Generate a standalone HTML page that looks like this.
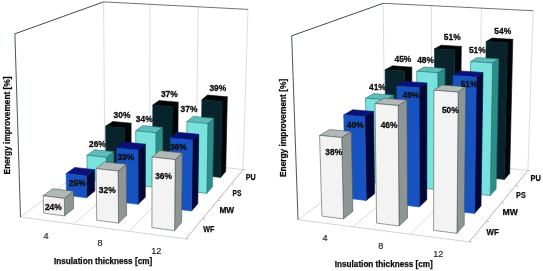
<!DOCTYPE html>
<html><head><meta charset="utf-8"><title>chart</title>
<style>html,body{margin:0;padding:0;background:#fff}svg{display:block}text{font-family:"Liberation Sans",sans-serif}</style>
</head><body>
<svg width="543" height="271" viewBox="0 0 543 271">
<rect width="543" height="271" fill="#fff"/>
<line x1="149.7" y1="158.5" x2="150.0" y2="4.4" stroke="#c4caca" stroke-width="0.6"/>
<line x1="196.1" y1="163.5" x2="198.2" y2="7.0" stroke="#c4caca" stroke-width="0.6"/>
<line x1="104.7" y1="153.6" x2="103.6" y2="1.9" stroke="#c4caca" stroke-width="0.6"/>
<line x1="243.0" y1="169.6" x2="248.0" y2="9.4" stroke="#c4caca" stroke-width="0.6"/>
<line x1="73.7" y1="224.0" x2="149.7" y2="158.5" stroke="#c4caca" stroke-width="0.7"/>
<line x1="129.0" y1="231.5" x2="196.1" y2="163.5" stroke="#c4caca" stroke-width="0.7"/>
<line x1="20.5" y1="217.1" x2="104.7" y2="153.6" stroke="#c4caca" stroke-width="0.7"/>
<line x1="104.7" y1="153.6" x2="243.0" y2="169.6" stroke="#c4caca" stroke-width="0.7"/>
<line x1="20.5" y1="217.1" x2="186.0" y2="238.8" stroke="#c4caca" stroke-width="0.8"/>
<line x1="186.0" y1="238.8" x2="243.0" y2="169.6" stroke="#9aa3a3" stroke-width="0.8"/>
<line x1="186.0" y1="238.8" x2="188.2" y2="239.1" stroke="#9aa3a3" stroke-width="0.7"/>
<line x1="203.3" y1="218.8" x2="205.6" y2="219.1" stroke="#9aa3a3" stroke-width="0.7"/>
<line x1="218.3" y1="200.4" x2="220.4" y2="200.7" stroke="#9aa3a3" stroke-width="0.7"/>
<line x1="231.8" y1="183.8" x2="233.8" y2="184.0" stroke="#9aa3a3" stroke-width="0.7"/>
<line x1="243.0" y1="169.6" x2="245.2" y2="169.9" stroke="#9aa3a3" stroke-width="0.7"/>
<line x1="14.9" y1="33.8" x2="103.6" y2="1.9" stroke="#3f4b4b" stroke-width="1.0"/>
<line x1="103.6" y1="1.9" x2="248.0" y2="9.4" stroke="#5a6666" stroke-width="0.9"/>
<line x1="20.5" y1="217.1" x2="14.9" y2="33.8" stroke="#4a5656" stroke-width="1.0"/>
<polygon points="124.4,166.6 131.1,161.0 131.1,123.2 124.2,128.1" fill="#020608" stroke="#020608" stroke-width="0.6" stroke-linejoin="round"/>
<polygon points="105.6,126.3 124.2,128.1 131.1,123.2 112.7,121.5" fill="#000304" stroke="#000304" stroke-width="0.6" stroke-linejoin="round"/>
<polygon points="105.9,164.5 124.4,166.6 124.2,128.1 105.6,126.3" fill="#09232c" stroke="#09232c" stroke-width="0.6" stroke-linejoin="round"/>
<polygon points="171.7,171.9 177.6,166.2 178.2,102.2 172.2,106.8" fill="#020608" stroke="#020608" stroke-width="0.6" stroke-linejoin="round"/>
<polygon points="152.8,105.1 172.2,106.8 178.2,102.2 159.1,100.5" fill="#000304" stroke="#000304" stroke-width="0.6" stroke-linejoin="round"/>
<polygon points="152.6,169.8 171.7,171.9 172.2,106.8 152.8,105.1" fill="#09232c" stroke="#09232c" stroke-width="0.6" stroke-linejoin="round"/>
<polygon points="220.6,177.4 225.7,171.5 227.3,96.8 222.1,101.4" fill="#020608" stroke="#020608" stroke-width="0.6" stroke-linejoin="round"/>
<polygon points="201.9,99.7 222.1,101.4 227.3,96.8 207.5,95.1" fill="#000304" stroke="#000304" stroke-width="0.6" stroke-linejoin="round"/>
<polygon points="200.8,175.2 220.6,177.4 222.1,101.4 201.9,99.7" fill="#09232c" stroke="#09232c" stroke-width="0.6" stroke-linejoin="round"/>
<polygon points="106.4,181.4 113.8,175.3 113.7,151.7 106.2,157.4" fill="#2c8c88" stroke="#267878" stroke-width="0.6" stroke-linejoin="round"/>
<polygon points="86.9,155.3 106.2,157.4 113.7,151.7 94.6,149.7" fill="#5ebcba" stroke="#267878" stroke-width="0.6" stroke-linejoin="round"/>
<polygon points="87.2,179.1 106.4,181.4 106.2,157.4 86.9,155.3" fill="#7ae2dc" stroke="#267878" stroke-width="0.6" stroke-linejoin="round"/>
<polygon points="155.7,187.3 162.3,181.0 162.6,127.5 155.9,132.8" fill="#2c8c88" stroke="#267878" stroke-width="0.6" stroke-linejoin="round"/>
<polygon points="135.7,130.8 155.9,132.8 162.6,127.5 142.7,125.5" fill="#5ebcba" stroke="#267878" stroke-width="0.6" stroke-linejoin="round"/>
<polygon points="135.8,184.9 155.7,187.3 155.9,132.8 135.7,130.8" fill="#7ae2dc" stroke="#267878" stroke-width="0.6" stroke-linejoin="round"/>
<polygon points="206.8,193.4 212.5,186.8 213.7,118.3 207.9,123.6" fill="#2c8c88" stroke="#267878" stroke-width="0.6" stroke-linejoin="round"/>
<polygon points="186.9,121.6 207.9,123.6 213.7,118.3 193.1,116.4" fill="#5ebcba" stroke="#267878" stroke-width="0.6" stroke-linejoin="round"/>
<polygon points="186.1,190.9 206.8,193.4 207.9,123.6 186.9,121.6" fill="#7ae2dc" stroke="#267878" stroke-width="0.6" stroke-linejoin="round"/>
<polygon points="86.6,197.8 94.8,191.0 94.5,169.7 86.3,176.0" fill="#010838" stroke="#010838" stroke-width="0.6" stroke-linejoin="round"/>
<polygon points="66.1,173.6 86.3,176.0 94.5,169.7 74.7,167.4" fill="#0a1278" stroke="#0a1278" stroke-width="0.6" stroke-linejoin="round"/>
<polygon points="66.5,195.3 86.6,197.8 86.3,176.0 66.1,173.6" fill="#1652c0" stroke="#1652c0" stroke-width="0.6" stroke-linejoin="round"/>
<polygon points="138.1,204.3 145.3,197.3 145.4,144.2 138.0,150.2" fill="#010838" stroke="#010838" stroke-width="0.6" stroke-linejoin="round"/>
<polygon points="116.9,147.9 138.0,150.2 145.4,144.2 124.7,142.1" fill="#0a1278" stroke="#0a1278" stroke-width="0.6" stroke-linejoin="round"/>
<polygon points="117.2,201.7 138.1,204.3 138.0,150.2 116.9,147.9" fill="#1652c0" stroke="#1652c0" stroke-width="0.6" stroke-linejoin="round"/>
<polygon points="191.5,211.0 197.8,203.7 198.8,134.3 192.4,140.2" fill="#010838" stroke="#010838" stroke-width="0.6" stroke-linejoin="round"/>
<polygon points="170.4,138.0 192.4,140.2 198.8,134.3 177.2,132.2" fill="#0a1278" stroke="#0a1278" stroke-width="0.6" stroke-linejoin="round"/>
<polygon points="169.9,208.3 191.5,211.0 192.4,140.2 170.4,138.0" fill="#1652c0" stroke="#1652c0" stroke-width="0.6" stroke-linejoin="round"/>
<polygon points="64.6,215.9 73.7,208.4 73.4,191.2 64.3,198.4" fill="#8d9595" stroke="#505757" stroke-width="0.6" stroke-linejoin="round"/>
<polygon points="43.2,195.7 64.3,198.4 73.4,191.2 52.7,188.7" fill="#b1b8b8" stroke="#505757" stroke-width="0.6" stroke-linejoin="round"/>
<polygon points="43.6,213.1 64.6,215.9 64.3,198.4 43.2,195.7" fill="#f3f3f3" stroke="#505757" stroke-width="0.6" stroke-linejoin="round"/>
<polygon points="118.5,223.1 126.6,215.3 126.4,164.3 118.2,171.1" fill="#8d9595" stroke="#505757" stroke-width="0.6" stroke-linejoin="round"/>
<polygon points="96.1,168.6 118.2,171.1 126.4,164.3 104.7,161.9" fill="#b1b8b8" stroke="#505757" stroke-width="0.6" stroke-linejoin="round"/>
<polygon points="96.7,220.2 118.5,223.1 118.2,171.1 96.1,168.6" fill="#f3f3f3" stroke="#505757" stroke-width="0.6" stroke-linejoin="round"/>
<polygon points="174.6,230.6 181.6,222.5 182.3,153.0 175.2,159.6" fill="#8d9595" stroke="#505757" stroke-width="0.6" stroke-linejoin="round"/>
<polygon points="152.1,157.1 175.2,159.6 182.3,153.0 159.6,150.6" fill="#b1b8b8" stroke="#505757" stroke-width="0.6" stroke-linejoin="round"/>
<polygon points="151.9,227.6 174.6,230.6 175.2,159.6 152.1,157.1" fill="#f3f3f3" stroke="#505757" stroke-width="0.6" stroke-linejoin="round"/>
<line x1="431.2" y1="160.6" x2="431.5" y2="5.7" stroke="#c4caca" stroke-width="0.6"/>
<line x1="479.1" y1="165.6" x2="481.4" y2="8.1" stroke="#c4caca" stroke-width="0.6"/>
<line x1="384.9" y1="155.9" x2="383.2" y2="3.3" stroke="#c4caca" stroke-width="0.6"/>
<line x1="527.9" y1="170.5" x2="533.1" y2="10.7" stroke="#c4caca" stroke-width="0.6"/>
<line x1="352.9" y1="226.9" x2="431.2" y2="160.6" stroke="#c4caca" stroke-width="0.7"/>
<line x1="410.0" y1="234.4" x2="479.1" y2="165.6" stroke="#c4caca" stroke-width="0.7"/>
<line x1="298.0" y1="219.7" x2="384.9" y2="155.9" stroke="#c4caca" stroke-width="0.7"/>
<line x1="384.9" y1="155.9" x2="527.9" y2="170.5" stroke="#c4caca" stroke-width="0.7"/>
<line x1="298.0" y1="219.7" x2="469.3" y2="241.9" stroke="#c4caca" stroke-width="0.8"/>
<line x1="469.3" y1="241.9" x2="527.9" y2="170.5" stroke="#9aa3a3" stroke-width="0.8"/>
<line x1="469.3" y1="241.9" x2="471.5" y2="242.2" stroke="#9aa3a3" stroke-width="0.7"/>
<line x1="486.7" y1="221.3" x2="489.0" y2="221.6" stroke="#9aa3a3" stroke-width="0.7"/>
<line x1="502.1" y1="202.7" x2="504.3" y2="203.0" stroke="#9aa3a3" stroke-width="0.7"/>
<line x1="516.0" y1="185.9" x2="518.1" y2="186.1" stroke="#9aa3a3" stroke-width="0.7"/>
<line x1="527.9" y1="170.5" x2="530.1" y2="170.8" stroke="#9aa3a3" stroke-width="0.7"/>
<line x1="291.7" y1="35.8" x2="383.2" y2="3.3" stroke="#3f4b4b" stroke-width="1.0"/>
<line x1="383.2" y1="3.3" x2="533.1" y2="10.7" stroke="#5a6666" stroke-width="0.9"/>
<line x1="298.0" y1="219.7" x2="291.7" y2="35.8" stroke="#4a5656" stroke-width="1.0"/>
<polygon points="405.2,168.9 412.1,163.3 411.8,67.2 404.7,71.1" fill="#020608" stroke="#020608" stroke-width="0.6" stroke-linejoin="round"/>
<polygon points="385.1,69.7 404.7,71.1 411.8,67.2 392.6,65.8" fill="#000304" stroke="#000304" stroke-width="0.6" stroke-linejoin="round"/>
<polygon points="386.2,166.9 405.2,168.9 404.7,71.1 385.1,69.7" fill="#09232c" stroke="#09232c" stroke-width="0.6" stroke-linejoin="round"/>
<polygon points="454.0,174.1 460.1,168.3 461.3,46.4 454.9,50.1" fill="#020608" stroke="#020608" stroke-width="0.6" stroke-linejoin="round"/>
<polygon points="434.5,48.8 454.9,50.1 461.3,46.4 441.2,45.2" fill="#000304" stroke="#000304" stroke-width="0.6" stroke-linejoin="round"/>
<polygon points="434.3,172.0 454.0,174.1 454.9,50.1 434.5,48.8" fill="#09232c" stroke="#09232c" stroke-width="0.6" stroke-linejoin="round"/>
<polygon points="504.4,179.5 509.7,173.5 512.8,39.3 507.4,42.8" fill="#020608" stroke="#020608" stroke-width="0.6" stroke-linejoin="round"/>
<polygon points="486.2,41.6 507.4,42.8 512.8,39.3 492.0,38.1" fill="#000304" stroke="#000304" stroke-width="0.6" stroke-linejoin="round"/>
<polygon points="484.0,177.3 504.4,179.5 507.4,42.8 486.2,41.6" fill="#09232c" stroke="#09232c" stroke-width="0.6" stroke-linejoin="round"/>
<polygon points="386.6,183.9 394.3,177.8 393.6,95.2 385.8,99.9" fill="#2c8c88" stroke="#267878" stroke-width="0.6" stroke-linejoin="round"/>
<polygon points="365.5,98.2 385.8,99.9 393.6,95.2 373.6,93.6" fill="#5ebcba" stroke="#267878" stroke-width="0.6" stroke-linejoin="round"/>
<polygon points="366.8,181.7 386.6,183.9 385.8,99.9 365.5,98.2" fill="#7ae2dc" stroke="#267878" stroke-width="0.6" stroke-linejoin="round"/>
<polygon points="437.5,189.7 444.3,183.3 444.9,68.5 437.9,72.8" fill="#2c8c88" stroke="#267878" stroke-width="0.6" stroke-linejoin="round"/>
<polygon points="416.7,71.2 437.9,72.8 444.9,68.5 424.0,67.0" fill="#5ebcba" stroke="#267878" stroke-width="0.6" stroke-linejoin="round"/>
<polygon points="416.9,187.4 437.5,189.7 437.9,72.8 416.7,71.2" fill="#7ae2dc" stroke="#267878" stroke-width="0.6" stroke-linejoin="round"/>
<polygon points="490.2,195.6 496.1,189.0 498.6,58.9 492.6,63.0" fill="#2c8c88" stroke="#267878" stroke-width="0.6" stroke-linejoin="round"/>
<polygon points="470.5,61.5 492.6,63.0 498.6,58.9 476.9,57.5" fill="#5ebcba" stroke="#267878" stroke-width="0.6" stroke-linejoin="round"/>
<polygon points="468.9,193.2 490.2,195.6 492.6,63.0 470.5,61.5" fill="#7ae2dc" stroke="#267878" stroke-width="0.6" stroke-linejoin="round"/>
<polygon points="366.2,200.5 374.6,193.7 373.5,111.5 364.8,116.8" fill="#010838" stroke="#010838" stroke-width="0.6" stroke-linejoin="round"/>
<polygon points="343.7,114.9 364.8,116.8 373.5,111.5 352.7,109.7" fill="#0a1278" stroke="#0a1278" stroke-width="0.6" stroke-linejoin="round"/>
<polygon points="345.5,198.0 366.2,200.5 364.8,116.8 343.7,114.9" fill="#1652c0" stroke="#1652c0" stroke-width="0.6" stroke-linejoin="round"/>
<polygon points="419.3,206.9 426.8,199.8 426.9,83.0 419.1,87.8" fill="#010838" stroke="#010838" stroke-width="0.6" stroke-linejoin="round"/>
<polygon points="396.9,86.1 419.1,87.8 426.9,83.0 405.1,81.4" fill="#0a1278" stroke="#0a1278" stroke-width="0.6" stroke-linejoin="round"/>
<polygon points="397.8,204.3 419.3,206.9 419.1,87.8 396.9,86.1" fill="#1652c0" stroke="#1652c0" stroke-width="0.6" stroke-linejoin="round"/>
<polygon points="474.5,213.5 481.0,206.1 483.0,72.5 476.3,77.2" fill="#010838" stroke="#010838" stroke-width="0.6" stroke-linejoin="round"/>
<polygon points="453.2,75.5 476.3,77.2 483.0,72.5 460.3,70.9" fill="#0a1278" stroke="#0a1278" stroke-width="0.6" stroke-linejoin="round"/>
<polygon points="452.2,210.8 474.5,213.5 476.3,77.2 453.2,75.5" fill="#1652c0" stroke="#1652c0" stroke-width="0.6" stroke-linejoin="round"/>
<polygon points="343.5,218.9 352.9,211.3 351.3,131.6 341.7,137.5" fill="#8d9595" stroke="#505757" stroke-width="0.6" stroke-linejoin="round"/>
<polygon points="319.6,135.4 341.7,137.5 351.3,131.6 329.6,129.5" fill="#b1b8b8" stroke="#505757" stroke-width="0.6" stroke-linejoin="round"/>
<polygon points="321.9,216.1 343.5,218.9 341.7,137.5 319.6,135.4" fill="#f3f3f3" stroke="#505757" stroke-width="0.6" stroke-linejoin="round"/>
<polygon points="399.1,226.0 407.5,218.1 406.9,100.1 398.2,105.5" fill="#8d9595" stroke="#505757" stroke-width="0.6" stroke-linejoin="round"/>
<polygon points="375.0,103.5 398.2,105.5 406.9,100.1 384.1,98.2" fill="#b1b8b8" stroke="#505757" stroke-width="0.6" stroke-linejoin="round"/>
<polygon points="376.6,223.1 399.1,226.0 398.2,105.5 375.0,103.5" fill="#f3f3f3" stroke="#505757" stroke-width="0.6" stroke-linejoin="round"/>
<polygon points="457.0,233.3 464.2,225.1 465.7,86.8 458.2,92.1" fill="#8d9595" stroke="#505757" stroke-width="0.6" stroke-linejoin="round"/>
<polygon points="433.9,90.2 458.2,92.1 465.7,86.8 441.9,85.0" fill="#b1b8b8" stroke="#505757" stroke-width="0.6" stroke-linejoin="round"/>
<polygon points="433.6,230.4 457.0,233.3 458.2,92.1 433.9,90.2" fill="#f3f3f3" stroke="#505757" stroke-width="0.6" stroke-linejoin="round"/>
<text x="122" y="118.2" font-size="8.7" font-weight="bold" text-anchor="middle" fill="#0c0c0c" stroke="#0c0c0c" stroke-width="0.3" textLength="16.8" lengthAdjust="spacingAndGlyphs">30%</text>
<text x="169.3" y="96.6" font-size="8.7" font-weight="bold" text-anchor="middle" fill="#0c0c0c" stroke="#0c0c0c" stroke-width="0.3" textLength="16.8" lengthAdjust="spacingAndGlyphs">37%</text>
<text x="217.8" y="90.5" font-size="8.7" font-weight="bold" text-anchor="middle" fill="#0c0c0c" stroke="#0c0c0c" stroke-width="0.3" textLength="16.8" lengthAdjust="spacingAndGlyphs">39%</text>
<text x="189" y="112.1" font-size="8.7" font-weight="bold" text-anchor="middle" fill="#0c0c0c" stroke="#0c0c0c" stroke-width="0.3" textLength="16.8" lengthAdjust="spacingAndGlyphs">37%</text>
<text x="144.2" y="122" font-size="8.7" font-weight="bold" text-anchor="middle" fill="#0c0c0c" stroke="#0c0c0c" stroke-width="0.3" textLength="16.8" lengthAdjust="spacingAndGlyphs">34%</text>
<text x="97.4" y="146.5" font-size="8.7" font-weight="bold" text-anchor="middle" fill="#0c0c0c" stroke="#0c0c0c" stroke-width="0.3" textLength="16.8" lengthAdjust="spacingAndGlyphs">26%</text>
<text x="125.8" y="160.3" font-size="8.7" font-weight="bold" text-anchor="middle" fill="#0c0c0c" stroke="#0c0c0c" stroke-width="0.3" textLength="16.8" lengthAdjust="spacingAndGlyphs">33%</text>
<text x="77.2" y="186.2" font-size="8.7" font-weight="bold" text-anchor="middle" fill="#0c0c0c" stroke="#0c0c0c" stroke-width="0.3" textLength="16.8" lengthAdjust="spacingAndGlyphs">25%</text>
<text x="107.2" y="193.2" font-size="8.7" font-weight="bold" text-anchor="middle" fill="#0c0c0c" stroke="#0c0c0c" stroke-width="0.3" textLength="16.8" lengthAdjust="spacingAndGlyphs">32%</text>
<text x="53.3" y="210" font-size="8.7" font-weight="bold" text-anchor="middle" fill="#0c0c0c" stroke="#0c0c0c" stroke-width="0.3" textLength="16.8" lengthAdjust="spacingAndGlyphs">24%</text>
<text x="178.3" y="149.6" font-size="8.7" font-weight="bold" text-anchor="middle" fill="#0c0c0c" stroke="#0c0c0c" stroke-width="0.3" textLength="16.8" lengthAdjust="spacingAndGlyphs">36%</text>
<text x="163.6" y="178.7" font-size="8.7" font-weight="bold" text-anchor="middle" fill="#0c0c0c" stroke="#0c0c0c" stroke-width="0.3" textLength="16.8" lengthAdjust="spacingAndGlyphs">36%</text>
<text x="46" y="238.6" font-size="9.1" font-weight="normal" text-anchor="middle" fill="#222" stroke="#222" stroke-width="0.15">4</text>
<text x="100" y="246.2" font-size="9.1" font-weight="normal" text-anchor="middle" fill="#222" stroke="#222" stroke-width="0.15">8</text>
<text x="156.3" y="254" font-size="9.1" font-weight="normal" text-anchor="middle" fill="#222" stroke="#222" stroke-width="0.15">12</text>
<text x="452.2" y="40.2" font-size="8.7" font-weight="bold" text-anchor="middle" fill="#0c0c0c" stroke="#0c0c0c" stroke-width="0.3" textLength="16.8" lengthAdjust="spacingAndGlyphs">51%</text>
<text x="502.7" y="33.8" font-size="8.7" font-weight="bold" text-anchor="middle" fill="#0c0c0c" stroke="#0c0c0c" stroke-width="0.3" textLength="16.8" lengthAdjust="spacingAndGlyphs">54%</text>
<text x="477.3" y="53.3" font-size="8.7" font-weight="bold" text-anchor="middle" fill="#0c0c0c" stroke="#0c0c0c" stroke-width="0.3" textLength="16.8" lengthAdjust="spacingAndGlyphs">51%</text>
<text x="425.6" y="62.6" font-size="8.7" font-weight="bold" text-anchor="middle" fill="#0c0c0c" stroke="#0c0c0c" stroke-width="0.3" textLength="16.8" lengthAdjust="spacingAndGlyphs">48%</text>
<text x="402.9" y="61.8" font-size="8.7" font-weight="bold" text-anchor="middle" fill="#0c0c0c" stroke="#0c0c0c" stroke-width="0.3" textLength="16.8" lengthAdjust="spacingAndGlyphs">45%</text>
<text x="377.4" y="89.6" font-size="8.7" font-weight="bold" text-anchor="middle" fill="#0c0c0c" stroke="#0c0c0c" stroke-width="0.3" textLength="16.8" lengthAdjust="spacingAndGlyphs">41%</text>
<text x="355.2" y="127.8" font-size="8.7" font-weight="bold" text-anchor="middle" fill="#0c0c0c" stroke="#0c0c0c" stroke-width="0.3" textLength="16.8" lengthAdjust="spacingAndGlyphs">40%</text>
<text x="389.1" y="127.8" font-size="8.7" font-weight="bold" text-anchor="middle" fill="#0c0c0c" stroke="#0c0c0c" stroke-width="0.3" textLength="16.8" lengthAdjust="spacingAndGlyphs">46%</text>
<text x="410.9" y="98.4" font-size="8.7" font-weight="bold" text-anchor="middle" fill="#0c0c0c" stroke="#0c0c0c" stroke-width="0.3" textLength="16.8" lengthAdjust="spacingAndGlyphs">48%</text>
<text x="469.1" y="86.5" font-size="8.7" font-weight="bold" text-anchor="middle" fill="#0c0c0c" stroke="#0c0c0c" stroke-width="0.3" textLength="16.8" lengthAdjust="spacingAndGlyphs">51%</text>
<text x="450.3" y="112.5" font-size="8.7" font-weight="bold" text-anchor="middle" fill="#0c0c0c" stroke="#0c0c0c" stroke-width="0.3" textLength="16.8" lengthAdjust="spacingAndGlyphs">50%</text>
<text x="333.7" y="155.3" font-size="8.7" font-weight="bold" text-anchor="middle" fill="#0c0c0c" stroke="#0c0c0c" stroke-width="0.3" textLength="16.8" lengthAdjust="spacingAndGlyphs">38%</text>
<text x="325" y="241.3" font-size="9.1" font-weight="normal" text-anchor="middle" fill="#222" stroke="#222" stroke-width="0.15">4</text>
<text x="380.9" y="248.7" font-size="9.1" font-weight="normal" text-anchor="middle" fill="#222" stroke="#222" stroke-width="0.15">8</text>
<text x="438.3" y="257.3" font-size="9.1" font-weight="normal" text-anchor="middle" fill="#222" stroke="#222" stroke-width="0.15">12</text>
<text x="334.8" y="267.3" font-size="8.3" font-weight="bold" text-anchor="start" fill="#0c0c0c" stroke="#0c0c0c" stroke-width="0.25" textLength="98" lengthAdjust="spacingAndGlyphs">Insulation thickness [cm]</text>
<text x="285.7" y="177" font-size="8.3" font-weight="bold" text-anchor="start" fill="#0c0c0c" stroke="#0c0c0c" stroke-width="0.25" textLength="98.2" lengthAdjust="spacingAndGlyphs" transform="rotate(-90 285.7 177)">Energy improvement [%]</text>
<text x="54" y="264.3" font-size="8.3" font-weight="bold" text-anchor="start" fill="#0c0c0c" stroke="#0c0c0c" stroke-width="0.25" textLength="98.2" lengthAdjust="spacingAndGlyphs">Insulation thickness [cm]</text>
<text x="10.1" y="174.4" font-size="8.3" font-weight="bold" text-anchor="start" fill="#0c0c0c" stroke="#0c0c0c" stroke-width="0.25" textLength="97.9" lengthAdjust="spacingAndGlyphs" transform="rotate(-90 10.1 174.4)">Energy improvement [%]</text>
<text x="245.8" y="179.6" font-size="8.3" font-weight="bold" text-anchor="start" fill="#0c0c0c" stroke="#0c0c0c" stroke-width="0.25" textLength="9.9" lengthAdjust="spacingAndGlyphs">PU</text>
<text x="232.5" y="195.9" font-size="8.3" font-weight="bold" text-anchor="start" fill="#0c0c0c" stroke="#0c0c0c" stroke-width="0.25" textLength="8.9" lengthAdjust="spacingAndGlyphs">PS</text>
<text x="219.4" y="213.2" font-size="8.3" font-weight="bold" text-anchor="start" fill="#0c0c0c" stroke="#0c0c0c" stroke-width="0.25" textLength="14.8" lengthAdjust="spacingAndGlyphs">MW</text>
<text x="203.2" y="231.5" font-size="8.3" font-weight="bold" text-anchor="start" fill="#0c0c0c" stroke="#0c0c0c" stroke-width="0.25" textLength="11.1" lengthAdjust="spacingAndGlyphs">WF</text>
<text x="530.6" y="181.3" font-size="8.3" font-weight="bold" text-anchor="start" fill="#0c0c0c" stroke="#0c0c0c" stroke-width="0.25" textLength="10.2" lengthAdjust="spacingAndGlyphs">PU</text>
<text x="516.1" y="197.6" font-size="8.3" font-weight="bold" text-anchor="start" fill="#0c0c0c" stroke="#0c0c0c" stroke-width="0.25" textLength="9.6" lengthAdjust="spacingAndGlyphs">PS</text>
<text x="502.6" y="215.2" font-size="8.3" font-weight="bold" text-anchor="start" fill="#0c0c0c" stroke="#0c0c0c" stroke-width="0.25" textLength="15.3" lengthAdjust="spacingAndGlyphs">MW</text>
<text x="486.6" y="234.9" font-size="8.3" font-weight="bold" text-anchor="start" fill="#0c0c0c" stroke="#0c0c0c" stroke-width="0.25" textLength="12.2" lengthAdjust="spacingAndGlyphs">WF</text>
</svg>
</body></html>
